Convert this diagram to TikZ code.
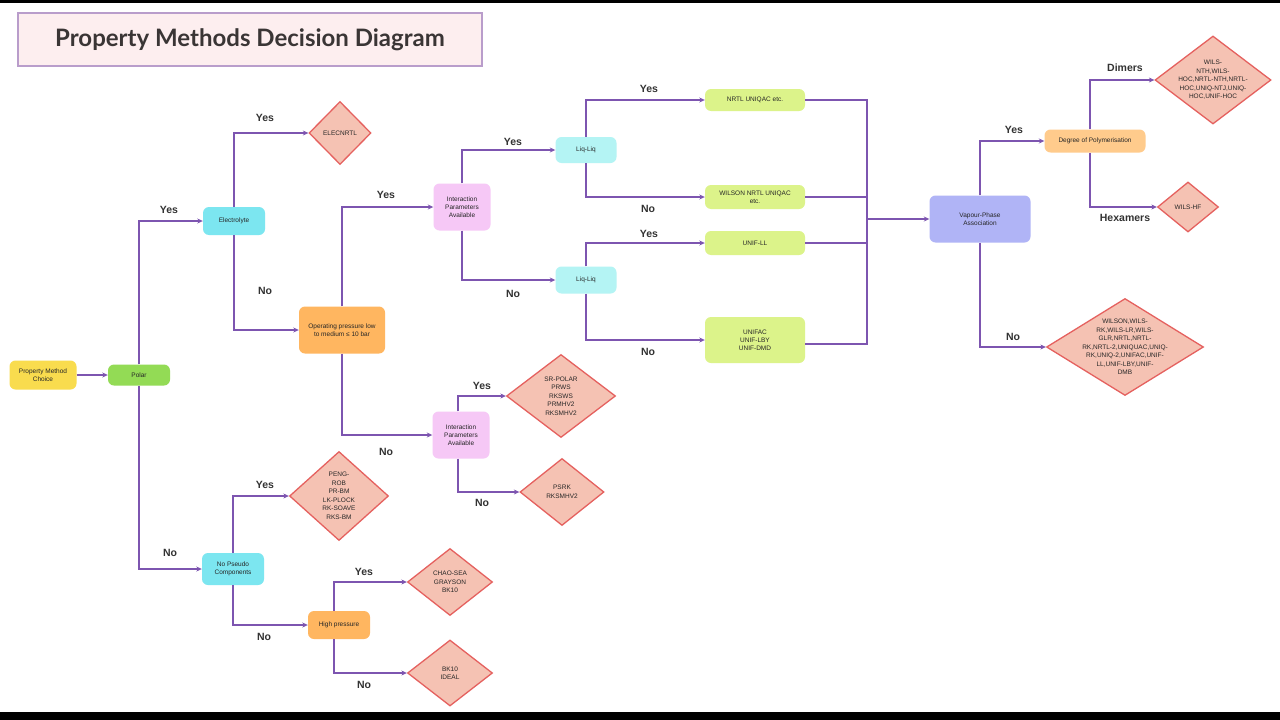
\documentclass[tikz,border=0pt]{standalone}
\usepackage{fontspec}
\setmainfont{Liberation Sans}
\newfontfamily\titlefont{Lato}
\usetikzlibrary{shapes.geometric,arrows.meta}
\definecolor{connC}{HTML}{7D55B0}
\definecolor{labC}{HTML}{333333}
\definecolor{diaFill}{HTML}{F5C2B3}
\definecolor{diaBorder}{HTML}{E5615F}
\definecolor{cYel}{HTML}{F9DC4E}
\definecolor{cGreen}{HTML}{93DB55}
\definecolor{cCyan}{HTML}{7CE6F0}
\definecolor{cCyanL}{HTML}{B4F4F4}
\definecolor{cOrange}{HTML}{FFB660}
\definecolor{cPink}{HTML}{F6C8F6}
\definecolor{cLime}{HTML}{DCF38A}
\definecolor{cLav}{HTML}{B0B4F6}
\definecolor{cPeach}{HTML}{FFCB8C}
\definecolor{titleF}{HTML}{FDEEEF}
\definecolor{titleB}{HTML}{B99DCB}
\definecolor{titleT}{HTML}{3A3535}
\begin{document}
\begin{tikzpicture}[x=1pt,y=-1pt,
 box/.style={rounded corners=6pt, inner sep=0pt, align=center, font=\fontsize{6.5}{8}\selectfont, text=black!85},
 dia/.style={diamond, draw=diaBorder, fill=diaFill, line width=1.3pt, inner sep=0pt},
 diatext/.style={align=center, font=\fontsize{6.5}{8.5}\selectfont, inner sep=0pt, text=black!85},
 conn/.style={draw=connC, line width=1.1pt},
 arr/.style={conn, -{Stealth[length=5.5pt,width=5pt]}},
 lab/.style={font=\fontsize{10.5}{12}\selectfont\bfseries, text=labC, inner sep=0pt}
]
\useasboundingbox (0,0) rectangle (1280,720);
\fill[white] (0,0) rectangle (1280,720);
\fill[black] (0,0) rectangle (1280,2.5);
\fill[black] (0,711.5) rectangle (1280,720);

% title
\node[draw=titleB, fill=titleF, line width=1.5pt, minimum width=464pt, minimum height=53pt, inner sep=0pt, text=titleT,
  font=\titlefont\fontsize{24}{28}\selectfont\bfseries] (title) at (250,39.5) {Property Methods Decision Diagram};

% boxes
\node[box, fill=cYel, minimum width=67pt, minimum height=29pt] (pmc) at (43,375) {Property Method\\Choice};
\node[box, fill=cGreen, minimum width=62pt, minimum height=21pt] (polar) at (139,375) {Polar};
\node[box, fill=cCyan, minimum width=62pt, minimum height=28pt] (elec) at (234,221) {Electrolyte};
\node[box, fill=cOrange, minimum width=86pt, minimum height=47pt] (op) at (342,330) {Operating pressure low\\to medium ≤ 10 bar};
\node[box, fill=cPink, minimum width=57pt, minimum height=47pt] (ipa) at (462,207) {Interaction\\Parameters\\Available};
\node[box, fill=cPink, minimum width=57pt, minimum height=47pt] (ipb) at (461,435) {Interaction\\Parameters\\Available};
\node[box, fill=cCyanL, minimum width=61pt, minimum height=26pt] (lla) at (586,150) {Liq-Liq};
\node[box, fill=cCyanL, minimum width=61pt, minimum height=27pt] (llb) at (586,280) {Liq-Liq};
\node[box, fill=cLime, minimum width=100pt, minimum height=22pt] (nrtl) at (755,100) {NRTL UNIQAC etc.};
\node[box, fill=cLime, minimum width=100pt, minimum height=24pt] (wil) at (755,197) {WILSON NRTL UNIQAC\\etc.};
\node[box, fill=cLime, minimum width=100pt, minimum height=24pt] (unifll) at (755,243) {UNIF-LL};
\node[box, fill=cLime, minimum width=100pt, minimum height=46pt] (unifac) at (755,340) {UNIFAC\\UNIF-LBY\\UNIF-DMD};
\node[box, fill=cLav, minimum width=101pt, minimum height=47pt] (vap) at (980,219) {Vapour-Phase\\Association};
\node[box, fill=cPeach, minimum width=101pt, minimum height=23pt] (deg) at (1095,141) {Degree of Polymerisation};
\node[box, fill=cCyan, minimum width=62pt, minimum height=32pt] (nopc) at (233,569) {No Pseudo\\Components};
\node[box, fill=cOrange, minimum width=62pt, minimum height=28pt] (hp) at (339,625) {High pressure};

% diamonds
\node[dia, minimum width=62pt, minimum height=63pt] (elecnrtl) at (340,133) {};
\node[diatext] (elecnrtlT) at (elecnrtl) {ELECNRTL};
\node[dia, minimum width=116pt, minimum height=88pt] (dim) at (1213,80) {};
\node[diatext] (dimT) at (dim) {WILS-\\NTH,WILS-\\HOC,NRTL-NTH,NRTL-\\HOC,UNIQ-NTJ,UNIQ-\\HOC,UNIF-HOC};
\node[dia, minimum width=61pt, minimum height=50pt] (hex) at (1188,207) {};
\node[diatext] (hexT) at (hex) {WILS-HF};
\node[dia, minimum width=157pt, minimum height=97pt] (big) at (1125,347) {};
\node[diatext] (bigT) at (big) {WILSON,WILS-\\RK,WILS-LR,WILS-\\GLR,NRTL,NRTL-\\RK,NRTL-2,UNIQUAC,UNIQ-\\RK,UNIQ-2,UNIFAC,UNIF-\\LL,UNIF-LBY,UNIF-\\DMB};
\node[dia, minimum width=109pt, minimum height=83pt] (srp) at (561,396) {};
\node[diatext] (srpT) at (srp) {SR-POLAR\\PRWS\\RKSWS\\PRMHV2\\RKSMHV2};
\node[dia, minimum width=84pt, minimum height=67pt] (psrk) at (562,492) {};
\node[diatext] (psrkT) at (psrk) {PSRK\\RKSMHV2};
\node[dia, minimum width=99pt, minimum height=89pt] (peng) at (339,496) {};
\node[diatext] (pengT) at (peng) {PENG-\\ROB\\PR-BM\\LK-PLOCK\\RK-SOAVE\\RKS-BM};
\node[dia, minimum width=85pt, minimum height=67pt] (chao) at (450,582) {};
\node[diatext] (chaoT) at (chao) {CHAO-SEA\\GRAYSON\\BK10};
\node[dia, minimum width=85pt, minimum height=66pt] (bk) at (450,673) {};
\node[diatext] (bkT) at (bk) {BK10\\IDEAL};

% connectors
\draw[arr] (pmc.east) -- (polar.west);
\draw[arr] (polar.north) |- (elec.west);
\draw[arr] (polar.south) |- (nopc.west);
\draw[arr] (elec.north) |- (elecnrtl.west);
\draw[arr] (elec.south) |- (op.west);
\draw[arr] (op.north) |- (ipa.west);
\draw[arr] (op.south) |- (ipb.west);
\draw[arr] (ipa.north) |- (lla.west);
\draw[arr] (ipa.south) |- (llb.west);
\draw[arr] (lla.north) |- (nrtl.west);
\draw[arr] (lla.south) |- (wil.west);
\draw[arr] (llb.north) |- (unifll.west);
\draw[arr] (llb.south) |- (unifac.west);
\coordinate (m) at (867,219);
\draw[conn] (nrtl.east) -| (m);
\draw[conn] ([yshift=-4pt]unifac.east) -| (m);
\draw[conn] (wil.east) -- (wil.east -| m);
\draw[conn] (unifll.east) -- (unifll.east -| m);
\draw[arr] (m) -- (vap.west);
\draw[arr] (vap.north) |- (deg.west);
\draw[arr] (vap.south) |- (big.west);
\draw[arr] ([xshift=-5pt]deg.north) |- (dim.west);
\draw[arr] ([xshift=-5pt]deg.south) |- (hex.west);
\draw[arr] ([xshift=-3pt]ipb.north) |- (srp.west);
\draw[arr] ([xshift=-3pt]ipb.south) |- (psrk.west);
\draw[arr] (nopc.north) |- (peng.west);
\draw[arr] (nopc.south) |- (hp.west);
\draw[arr] ([xshift=-5pt]hp.north) |- (chao.west);
\draw[arr] ([xshift=-5pt]hp.south) |- (bk.west);

% labels
\node[lab] (l1) at (169,210) {Yes};
\node[lab] (l2) at (170,553) {No};
\node[lab] (l3) at (265,118) {Yes};
\node[lab] (l4) at (265,291) {No};
\node[lab] (l5) at (386,195) {Yes};
\node[lab] (l6) at (386,452) {No};
\node[lab] (l7) at (513,142) {Yes};
\node[lab] (l8) at (513,294) {No};
\node[lab] (l9) at (649,89) {Yes};
\node[lab] (l10) at (648,209) {No};
\node[lab] (l11) at (649,234) {Yes};
\node[lab] (l12) at (648,352) {No};
\node[lab] (l13) at (1014,130) {Yes};
\node[lab] (l14) at (1013,337) {No};
\node[lab] (l15) at (1125,68) {Dimers};
\node[lab] (l16) at (1125,218) {Hexamers};
\node[lab] (l17) at (482,386) {Yes};
\node[lab] (l18) at (482,503) {No};
\node[lab] (l19) at (265,485) {Yes};
\node[lab] (l20) at (264,637) {No};
\node[lab] (l21) at (364,572) {Yes};
\node[lab] (l22) at (364,685) {No};
\end{tikzpicture}
\end{document}
